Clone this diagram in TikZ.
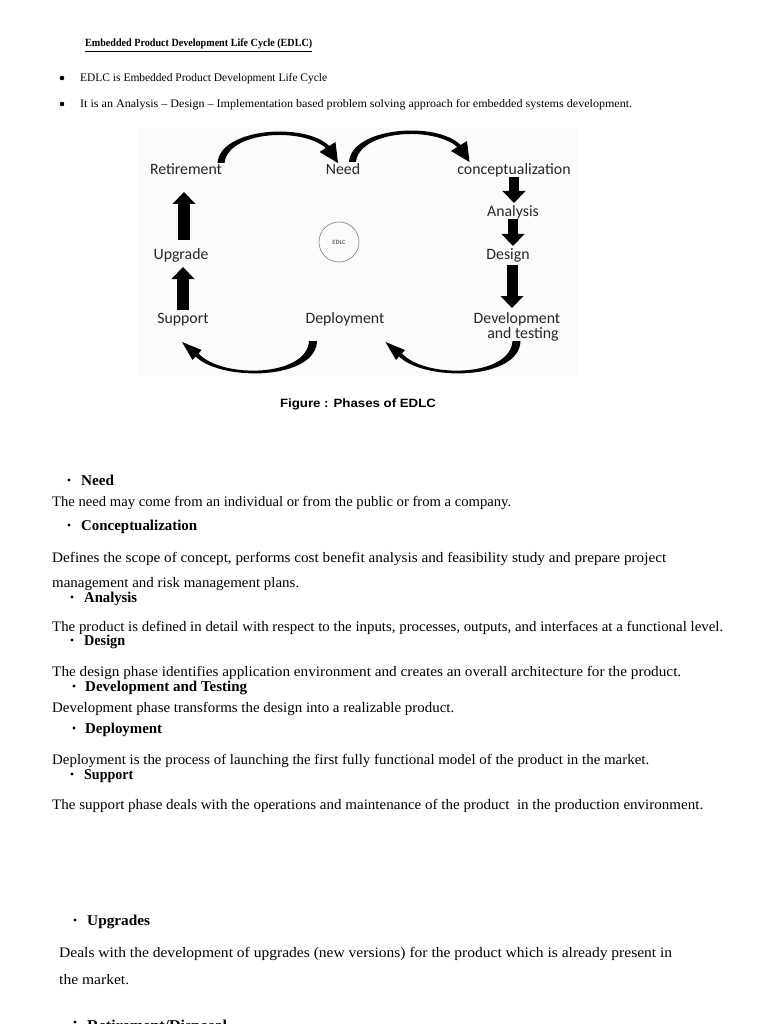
\documentclass[tikz,border=0pt]{standalone}
\usepackage{fontspec}
\usepackage{graphicx}
\setmainfont{Liberation Serif}
\newfontfamily\calfont{Carlito}
\newfontfamily\arialfont{Liberation Sans}
\usetikzlibrary{arrows.meta}
\newlength\fwlen
\newcommand\fitw[2]{\settowidth\fwlen{#2}\pgfmathsetmacro\fwfac{#1/\fwlen}\scalebox{\fwfac}[1]{#2}}
\tikzset{
  body/.style={anchor=base west, inner sep=0pt, font=\fontsize{14.5}{16}\selectfont},
  headtxt/.style={anchor=base west, inner sep=0pt, font=\fontsize{15}{17}\selectfont\bfseries},
  smalltxt/.style={anchor=base west, inner sep=0pt, font=\fontsize{11.5}{13}\selectfont},
  lab/.style={anchor=base, inner sep=0pt, font=\calfont\fontsize{15.8}{18}\selectfont, text=black!85},
  blk/.style={line width=#1, -{Triangle[length=12pt,width=23pt,line width=0pt]}},
  toparc/.pic={\fill[black] (-3.5,0) .. controls (-1,-35) and (84,-41) .. (108.2,-17) -- (114.5,-21) -- (117,0) -- (98.5,-11) -- (104.8,-15) .. controls (81,-36) and (7,-32) .. (3.5,0) -- cycle;},
  botarc/.pic={\fill[black] (4,0) .. controls (3,39) and (-91,41) .. (-117.5,15.5) -- (-120.5,19) -- (-131,1) -- (-111.5,9) -- (-114.5,12.5) .. controls (-91,38) and (-6,36) .. (-4,0) -- cycle;}
}
\begin{document}
\begin{tikzpicture}[x=1pt,y=-1pt]
\useasboundingbox (0,0) rectangle (768,1024);
\clip (0,0) rectangle (768,1024);
\fill[white] (0,0) rectangle (768,1024);

% header
\node[smalltxt, font=\fontsize{11}{13}\selectfont\bfseries] (title) at (85,47) {\fitw{227pt}{\underline{Embedded Product Development Life Cycle (EDLC)}}};
\fill (62,78) circle (2.3);
\node[smalltxt] (b1) at (80,82) {\fitw{247pt}{EDLC is Embedded Product Development Life Cycle}};
\fill (62,104) circle (2.3);
\node[smalltxt] (b2) at (80,108) {\fitw{552pt}{It is an Analysis -- Design -- Implementation based problem solving approach for embedded systems development.}};

% figure
\fill[black!1.5] (138,127) rectangle (578,377);
\node[lab] (ret) at (186,175) {Retirement};
\node[lab] (need) at (343,175) {Need};
\node[lab] (conc) at (514,175) {conceptualization};
\node[lab] (ana) at (513,217) {Analysis};
\node[lab] (des) at (508,259) {Design};
\node[lab] (upg) at (181,259) {Upgrade};
\node[lab] (sup) at (183,323) {Support};
\node[lab] (dep) at (345,323) {Deployment};
\node[lab] (dev) at (517,323) {Development};
\node[lab] (devb) at (523,338) {and testing};
\node[circle, draw=black!45, line width=0.7pt, minimum size=40pt, inner sep=0pt, font=\calfont\fontsize{6.5}{7}\selectfont, text=black!80] (edlc) at (339,242) {EDLC};

\coordinate (a1s) at (184,240); \coordinate (a1e) at (184,192);
\coordinate (a2s) at (183,310); \coordinate (a2e) at (183,267);
\coordinate (a3s) at (514,177); \coordinate (a3e) at (514,203);
\coordinate (a4s) at (513,219); \coordinate (a4e) at (513,246);
\coordinate (a5s) at (512,265); \coordinate (a5e) at (512,308);
\draw[blk=12pt] (a1s) -- (a1e);
\draw[blk=12pt] (a2s) -- (a2e);
\draw[blk=10pt] (a3s) -- (a3e);
\draw[blk=10pt] (a4s) -- (a4e);
\draw[blk=11pt] (a5s) -- (a5e);

\coordinate (rt) at (221,163);
\coordinate (nt) at (352.5,162);
\coordinate (dt) at (313,341);
\coordinate (vt) at (516.5,341);
\begin{scope}[shift={(rt)}] \pic {toparc}; \end{scope}
\begin{scope}[shift={(nt)}, xscale=1.235] \pic {toparc}; \end{scope}
\begin{scope}[shift={(dt)}] \pic {botarc}; \end{scope}
\begin{scope}[shift={(vt)}, xscale=1.103] \pic {botarc}; \end{scope}

\node[anchor=base, inner sep=0pt, font=\arialfont\bfseries\fontsize{12}{14}\selectfont] (cap) at (358,407) {\fitw{156pt}{Figure : Phases of EDLC}};

% descriptions
\fill (69,480) circle (1.6);
\node[headtxt] (h1) at (81,485) {\fitw{33pt}{Need}};
\node[body] (t1) at (52,506) {\fitw{459pt}{The need may come from an individual or from the public or from a company.}};
\fill (69,525) circle (1.6);
\node[headtxt] (h2) at (81,530) {\fitw{116pt}{Conceptualization}};
\node[body] (t2) at (52,562) {\fitw{614pt}{Defines the scope of concept, performs cost benefit analysis and feasibility study and prepare project}};
\node[body] (t2b) at (52,587) {\fitw{247pt}{management and risk management plans.}};
\fill (72,597) circle (1.6);
\node[headtxt] (h3) at (84,602) {\fitw{53pt}{Analysis}};
\node[body] (t3) at (52,631) {\fitw{671pt}{The product is defined in detail with respect to the inputs, processes, outputs, and interfaces at a functional level.}};
\fill (72,640) circle (1.6);
\node[headtxt] (h4) at (84,645) {\fitw{41pt}{Design}};
\node[body] (t4) at (52,676) {\fitw{629pt}{The design phase identifies application environment and creates an overall architecture for the product.}};
\fill (74,686) circle (1.6);
\node[headtxt] (h5) at (85,691) {\fitw{162pt}{Development and Testing}};
\node[body] (t5) at (52,712) {\fitw{402pt}{Development phase transforms the design into a realizable product.}};
\fill (74,728) circle (1.6);
\node[headtxt] (h6) at (85,733) {\fitw{77pt}{Deployment}};
\node[body] (t6) at (52,764) {\fitw{597pt}{Deployment is the process of launching the first fully functional model of the product in the market.}};
\fill (72,774) circle (1.6);
\node[headtxt] (h7) at (84,779) {\fitw{49pt}{Support}};
\node[body] (t7) at (52,809) {\fitw{651pt}{The support phase deals with the operations and maintenance of the product\ \ in the production environment.}};
\fill (75,920) circle (1.6);
\node[headtxt] (h8) at (87,925) {\fitw{63pt}{Upgrades}};
\node[body] (t8) at (59,957) {\fitw{613pt}{Deals with the development of upgrades (new versions) for the product which is already present in}};
\node[body] (t8b) at (59,984) {\fitw{70pt}{the market.}};
\fill (75,1022) circle (1.6);
\node[headtxt] (h9) at (87,1030) {\fitw{140pt}{Retirement/Disposal}};
\end{tikzpicture}
\end{document}
